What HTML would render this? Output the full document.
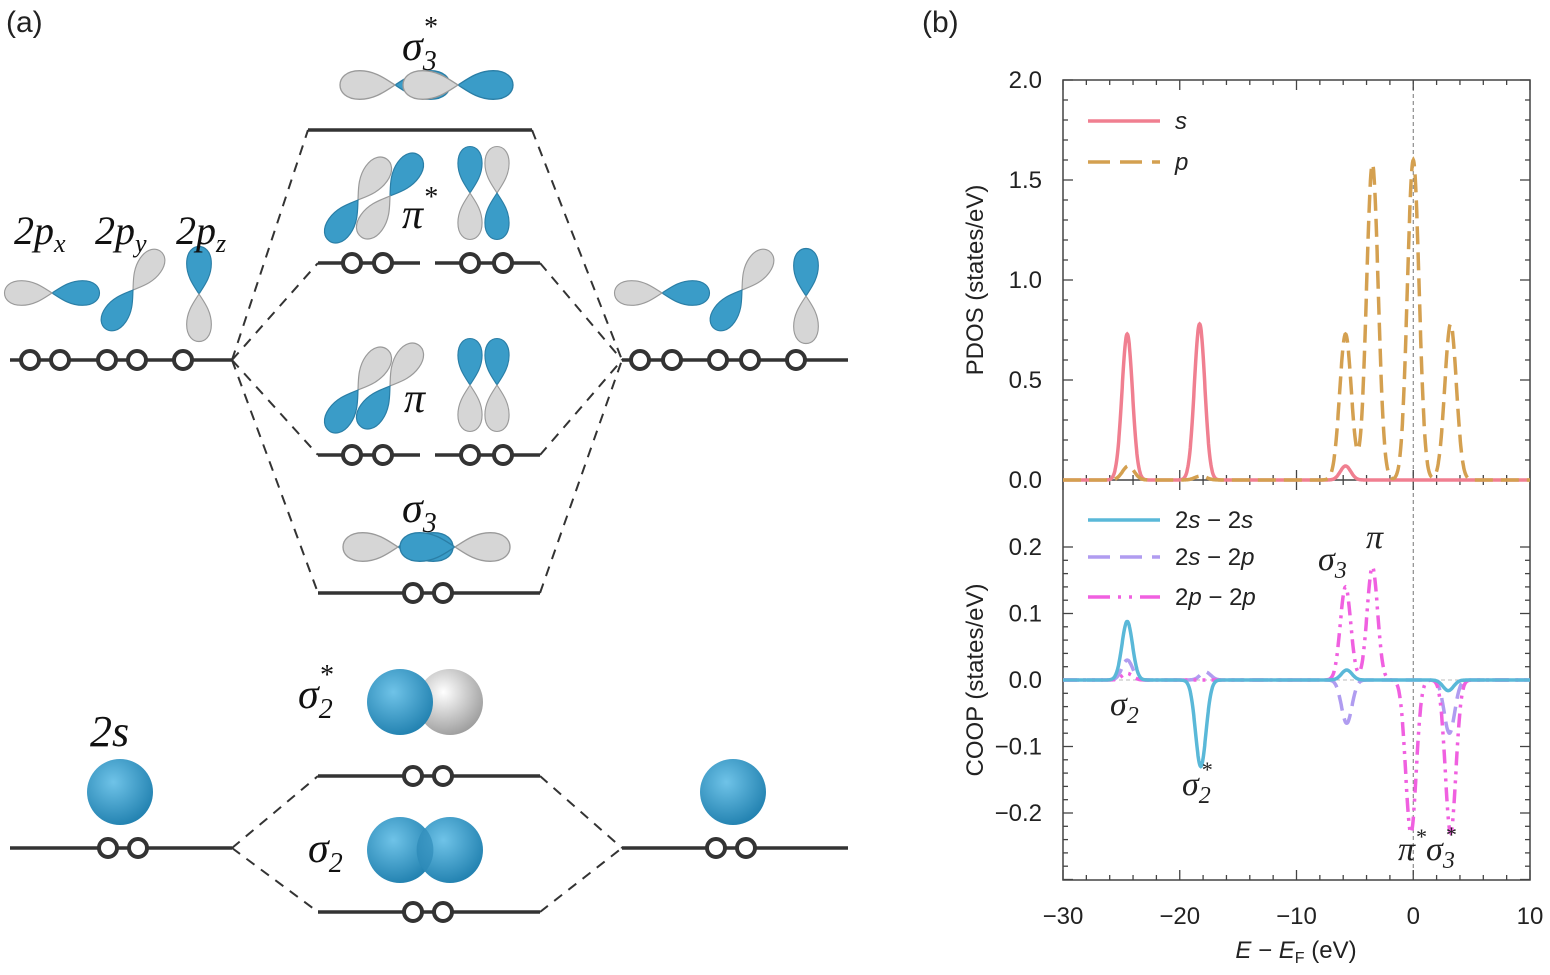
<!DOCTYPE html>
<html><head><meta charset="utf-8"><style>
html,body{margin:0;padding:0;background:#fff}
svg{display:block}
.s{font-family:"Liberation Serif",serif;font-style:italic;fill:#111}
.a{font-family:"Liberation Sans",sans-serif;fill:#222}
</style></head><body>
<svg id="sv" width="1550" height="975" viewBox="0 0 1550 975" xmlns="http://www.w3.org/2000/svg">
<defs>
<path id="lobe" d="M0 0 C8 -5 18 -13 32 -13 C45 -13 50 -6 50 0 C50 6 45 13 32 13 C18 13 8 5 0 0 Z"/>
<radialGradient id="gb" cx="0.4" cy="0.35" r="0.7"><stop offset="0" stop-color="#6fc3e8"/><stop offset="1" stop-color="#1f7fae"/></radialGradient>
<radialGradient id="gg" cx="0.4" cy="0.35" r="0.7"><stop offset="0" stop-color="#ffffff"/><stop offset="1" stop-color="#9a9a9a"/></radialGradient>
</defs>
<text class="a" x="6" y="32" font-size="30">(a)</text>
<text class="a" x="922" y="32" font-size="30">(b)</text>
<g id="diag" stroke="#333" fill="none"></g>
<g id="orb"></g>
<g class="s" font-size="42">
<text x="402" y="60">σ<tspan font-size="28" dy="10">3</tspan><tspan font-size="28" dx="-14" dy="-34">*</tspan></text>
<text x="402" y="228">π<tspan font-size="28" dy="-22">*</tspan></text>
<text x="404" y="412">π</text>
<text x="402" y="522">σ<tspan font-size="28" dy="10">3</tspan></text>
<text x="298" y="708">σ<tspan font-size="28" dy="10">2</tspan><tspan font-size="28" dx="-14" dy="-34">*</tspan></text>
<text x="308" y="862">σ<tspan font-size="28" dy="10">2</tspan></text>
<text x="90" y="746" font-size="44">2s</text>
<text x="14" y="244" font-size="40">2p<tspan font-size="26" dy="8">x</tspan></text>
<text x="95" y="244" font-size="40">2p<tspan font-size="26" dy="8">y</tspan></text>
<text x="176" y="244" font-size="40">2p<tspan font-size="26" dy="8">z</tspan></text>
</g>
<g id="plot"></g>
</svg>
<script>
const NS="http://www.w3.org/2000/svg";
function el(p,t,a){const e=document.createElementNS(NS,t);for(const k in a)e.setAttribute(k,a[k]);p.appendChild(e);return e;}
const D=document.getElementById('diag'),O=document.getElementById('orb'),P=document.getElementById('plot');
function line(x1,y1,x2,y2,dash,w){el(D,'line',{x1,y1,x2,y2,'stroke-width':w||3,'stroke-dasharray':dash||'none'});}
function lvl(x1,x2,y,cs){line(x1,y,x2,y,null,3.5);cs.forEach(c=>el(D,'circle',{cx:c,cy:y,r:9,fill:'#fff','stroke-width':4}));}
lvl(308,532,130,[]);
lvl(318,420,263,[352,383]);lvl(435,540,263,[470,503]);
lvl(318,420,455,[352,383]);lvl(435,540,455,[470,503]);
lvl(318,540,593,[413,443]);
lvl(318,540,776,[413,443]);
lvl(318,540,912,[413,443]);
lvl(10,232,360,[30,60,107,137,183]);
lvl(622,848,360,[640,672,718,750,796]);
lvl(10,232,848,[108,138]);
lvl(622,848,848,[716,746]);
const dd='10 8';
line(232,360,308,130,dd,2);line(532,130,622,360,dd,2);
line(232,360,318,263,dd,2);line(540,263,622,360,dd,2);
line(232,360,318,455,dd,2);line(540,455,622,360,dd,2);
line(232,360,318,593,dd,2);line(540,593,622,360,dd,2);
line(232,848,318,776,dd,2);line(540,776,622,848,dd,2);
line(232,848,318,912,dd,2);line(540,912,622,848,dd,2);
const B='#3a9cc8',G='#d6d6d6';
function lobe(x,y,ang,col,s){el(O,'use',{href:'#lobe',transform:`translate(${x},${y}) rotate(${ang}) scale(${s||1})`,fill:col,stroke:col==B?'#2a7ea6':'#9a9a9a','stroke-width':1.2});}
function porb(x,y,ang,c1,c2,s){lobe(x,y,ang,c1,s);lobe(x,y,ang+180,c2,s);}
porb(52,293,0,B,G,0.95);porb(133,290,-55,G,B,0.95);porb(199,294,-90,B,G,0.95);
porb(662,293,0,B,G,0.95);porb(742,290,-55,G,B,0.95);porb(806,296,-90,B,G,0.95);
porb(395,85,0,B,G,1.1);porb(458,85,0,B,G,1.1);
porb(358,200,-55,G,B);porb(390,196,-55,B,G);
porb(470,193,-90,B,G,0.93);porb(497,193,-90,G,B,0.93);
porb(358,390,-55,G,B);porb(390,386,-55,G,B);
porb(470,385,-90,B,G,0.93);porb(497,385,-90,B,G,0.93);
porb(398,547,0,B,G,1.1);porb(455,547,180,B,G,1.1);
function sph(x,y,g){el(O,'circle',{cx:x,cy:y,r:33,fill:'url(#'+g+')'});}
sph(450,702,'gg');sph(400,702,'gb');
sph(400,850,'gb');sph(450,850,'gb');
el(O,'path',{d:'M425 828 A33 33 0 0 1 425 872 A33 33 0 0 1 425 828Z',fill:'#2a87b5',opacity:0.6});
sph(120,792,'gb');sph(733,792,'gb');
const X0=1063,X1=1530,xs=e=>X0+(e+30)*(X1-X0)/40;
const py=v=>480-v*200, cy=v=>680-v*665;
el(P,'rect',{x:X0,y:80,width:X1-X0,height:800,fill:'none',stroke:'#444','stroke-width':1.5});
el(P,'line',{x1:X0,y1:480,x2:X1,y2:480,stroke:'#444','stroke-width':1.5});
el(P,'line',{x1:xs(0),y1:80,x2:xs(0),y2:880,stroke:'#777','stroke-width':1,'stroke-dasharray':'4 3'});
el(P,'line',{x1:X0,y1:680,x2:X1,y2:680,stroke:'#bbb','stroke-width':1,'stroke-dasharray':'4 3'});
for(let e=-30;e<=10;e+=2){const L=e%10==0?10:5;const x=xs(e);
 [[80,1],[480,-1],[480,1],[880,-1]].forEach(([y,d])=>el(P,'line',{x1:x,y1:y,x2:x,y2:y+d*L,stroke:'#444','stroke-width':1.3}));}
for(let v=0;v<=2.0001;v+=0.1){const L=Math.abs(v*2-Math.round(v*2))<1e-6?10:5;const y=py(v);
 el(P,'line',{x1:X0,y1:y,x2:X0+L,y2:y,stroke:'#444','stroke-width':1.3});el(P,'line',{x1:X1,y1:y,x2:X1-L,y2:y,stroke:'#444','stroke-width':1.3});}
for(let i=-30;i<=20;i+=2){const v=i/100;const L=i%10==0?10:5;const y=cy(v);if(y<480||y>880)continue;
 el(P,'line',{x1:X0,y1:y,x2:X0+L,y2:y,stroke:'#444','stroke-width':1.3});el(P,'line',{x1:X1,y1:y,x2:X1-L,y2:y,stroke:'#444','stroke-width':1.3});}
function txt(x,y,s,a){const t=el(P,'text',Object.assign({x,y,'font-size':24,'font-family':'Liberation Sans,sans-serif',fill:'#222'},a||{}));t.textContent=s;return t;}
[['2.0',2],['1.5',1.5],['1.0',1],['0.5',0.5],['0.0',0]].forEach(([s,v])=>txt(1042,py(v)+8,s,{'text-anchor':'end'}));
[['0.2',.2],['0.1',.1],['0.0',0],['\u22120.1',-.1],['\u22120.2',-.2]].forEach(([s,v])=>txt(1042,cy(v)+8,s,{'text-anchor':'end'}));
[-30,-20,-10,0,10].forEach(e=>txt(xs(e),924,e<0?'\u2212'+(-e):''+e,{'text-anchor':'middle'}));
txt(983,280,'PDOS (states/eV)',{'text-anchor':'middle',transform:'rotate(-90 983 280)'});
txt(983,680,'COOP (states/eV)',{'text-anchor':'middle',transform:'rotate(-90 983 680)'});
const xl=txt(1296,958,'',{'text-anchor':'middle'});xl.innerHTML='<tspan font-style="italic">E</tspan> \u2212 <tspan font-style="italic">E</tspan><tspan font-size="16" dy="5">F</tspan><tspan dy="-5"> (eV)</tspan>';
function curve(peaks,sig,yf,col,dash){let d='';for(let i=0;i<=1200;i++){const e=-30+40*i/1200;let v=0;peaks.forEach(([c,a,s])=>v+=a*Math.exp(-((e-c)**2)/(2*(s||sig)**2)));d+=(i?'L':'M')+xs(e).toFixed(1)+' '+yf(v).toFixed(1);}
 el(P,'path',{d,fill:'none',stroke:col,'stroke-width':3.5,'stroke-dasharray':dash||'none'});}
const PK='#f07f90',PP='#d4a050',CB='#5ab8d8',CL='#b09cf0',CM='#f060e0';
curve([[-24.5,.73],[-18.3,.78],[-5.8,.07]],0.45,py,PK);
curve([[-24.4,.07],[-18.2,.02],[-5.8,.73],[-3.5,1.58],[0,1.6],[3.2,.78]],0.5,py,PP,'18 8');
curve([[-24.5,.03],[-17.8,.012],[-5.7,-.065],[3.1,-.08]],0.45,cy,CL,'16 8');
curve([[-24.5,.01],[-5.8,.14],[-3.5,.17],[-0.2,-.23],[3.2,-.23]],0.45,cy,CM,'14 6 3 6 3 6');
curve([[-24.5,.088],[-18.2,-.13],[-5.7,.015],[3.0,-.016]],0.45,cy,CB);
el(P,'line',{x1:1088,y1:121,x2:1160,y2:121,stroke:PK,'stroke-width':3.5});
el(P,'line',{x1:1088,y1:162,x2:1160,y2:162,stroke:PP,'stroke-width':3.5,'stroke-dasharray':'22 10'});
txt(1175,129,'s',{'font-style':'italic'});txt(1175,170,'p',{'font-style':'italic'});
el(P,'line',{x1:1088,y1:520,x2:1160,y2:520,stroke:CB,'stroke-width':3.5});
el(P,'line',{x1:1088,y1:557,x2:1160,y2:557,stroke:CL,'stroke-width':3.5,'stroke-dasharray':'22 10'});
el(P,'line',{x1:1088,y1:597,x2:1160,y2:597,stroke:CM,'stroke-width':3.5,'stroke-dasharray':'22 8 3 8 3 8'});
const l1=txt(1175,528,'');l1.innerHTML='2<tspan font-style="italic">s</tspan> \u2212 2<tspan font-style="italic">s</tspan>';
const l2=txt(1175,565,'');l2.innerHTML='2<tspan font-style="italic">s</tspan> \u2212 2<tspan font-style="italic">p</tspan>';
const l3=txt(1175,605,'');l3.innerHTML='2<tspan font-style="italic">p</tspan> \u2212 2<tspan font-style="italic">p</tspan>';
function ann(x,y,h){const t=txt(x,y,'',{'font-family':'Liberation Serif,serif','font-size':34,'font-style':'italic'});t.innerHTML=h;}
ann(1110,715,'σ<tspan font-size="24" dy="8">2</tspan>');
ann(1182,795,'σ<tspan font-size="24" dy="8">2</tspan><tspan font-size="22" dx="-10" dy="-26">*</tspan>');
ann(1318,570,'σ<tspan font-size="24" dy="8">3</tspan>');
ann(1366,548,'π');
ann(1398,860,'π<tspan font-size="22" dy="-16">*</tspan><tspan dy="16">σ</tspan><tspan font-size="24" dy="8">3</tspan><tspan font-size="22" dx="-10" dy="-26">*</tspan>');
</script>
</body></html>
